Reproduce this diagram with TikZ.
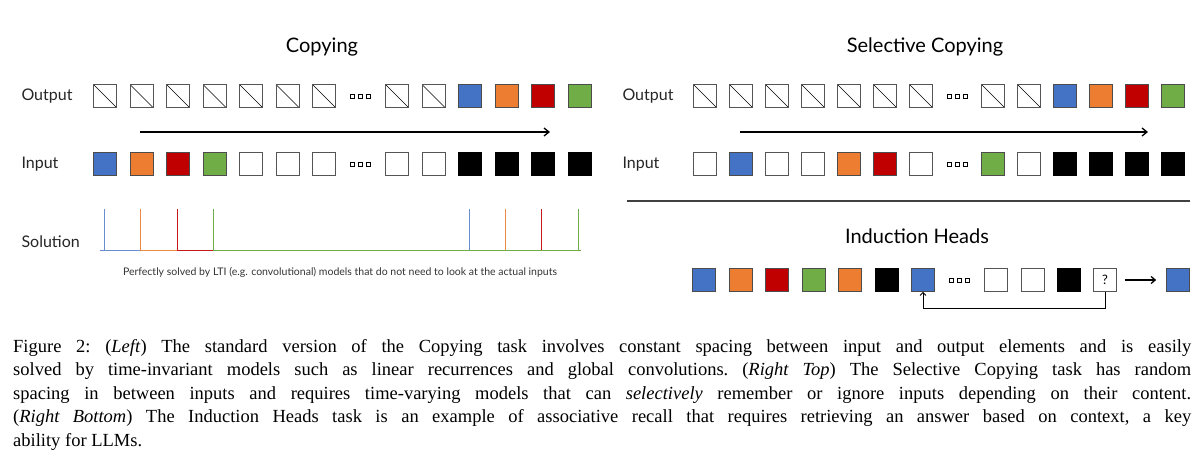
\documentclass[tikz,border=0pt]{standalone}
\usepackage{fontspec}
\setmainfont{Liberation Serif}
\newfontfamily\dia{Lato}
\usetikzlibrary{arrows.meta}
\definecolor{cB}{HTML}{4472C4}
\definecolor{cO}{HTML}{ED7D31}
\definecolor{cR}{HTML}{C00000}
\definecolor{cG}{HTML}{70AD47}
\definecolor{edge}{HTML}{555555}
\tikzset{
  cell/.style={draw=edge, minimum size=23pt, inner sep=0pt, line width=0.8pt},
  cellw/.style={cell, fill=white},
  cellh/.style={cell, fill=white, path picture={\draw[black,line width=0.6pt] (path picture bounding box.north west) -- (path picture bounding box.south east);}},
  cellB/.style={cell, draw=black!70, fill=cB},
  cellO/.style={cell, draw=black!70, fill=cO},
  cellR/.style={cell, draw=black!70, fill=cR},
  cellG/.style={cell, draw=black!70, fill=cG},
  cellK/.style={cell, draw=black, fill=black},
  cellq/.style={cell, fill=white, font=\dia\fontsize{13}{13}\selectfont},
  celld/.style={minimum size=23pt, inner sep=0pt, path picture={
     \foreach \dx in {-8,0,8}{\draw[black,line width=0.6pt] ([shift={(\dx pt-1.8pt,-1.8pt)}]path picture bounding box.center) rectangle ++(3.6pt,3.6pt);}}},
  lab/.style={font=\dia\fontsize{16}{16}\selectfont, anchor=west, text=black!85},
  ttl/.style={font=\dia\fontsize{20}{20}\selectfont},
  sol/.style={line width=1pt},
}
\begin{document}
\begin{tikzpicture}[x=1pt,y=-1pt]
\useasboundingbox[fill=white] (0,0) rectangle (1204,472);
% ---- Copying
\node[ttl] (t1) at (322,47) {Copying};
\node[lab] (l1) at (18,96) {Output};
\node[lab] (l2) at (18,164) {Input};
\node[lab] (l3) at (18,242) {Solution};
\foreach \t [count=\i from 0] in {h,h,h,h,h,h,h,d,h,h,B,O,R,G}
  \node[cell\t] (lo\i) at (105+36.5*\i,96) {};
\foreach \t [count=\i from 0] in {B,O,R,G,w,w,w,d,w,w,K,K,K,K}
  \node[cell\t] (li\i) at (105+36.5*\i,164) {};
\coordinate (a1s) at (140,132); \coordinate (a1e) at (550,132);
\draw[-{Straight Barb[length=5pt,width=8pt]},line width=1.3pt] (a1s) -- (a1e);
% solution
\draw[sol,cB!80] (104,209) -- (104,250) (100,250) -- (140,250) (469,209) -- (469,250);
\draw[sol,cO!90] (140,209) -- (140,250) -- (177,250) (505,209) -- (505,250);
\draw[sol,cR!90] (177,209) -- (177,250) -- (213,250) (541,209) -- (541,250);
\draw[sol,cG] (213,209) -- (213,250) -- (581,250) (578,209) -- (578,250);
\node[font=\dia\fontsize{10.5}{10.5}\selectfont, text=black!80] (cap1) at (340,272) {Perfectly solved by LTI (e.g. convolutional) models that do not need to look at the actual inputs};
% ---- Selective copying
\node[ttl] (t2) at (925,47) {Selective Copying};
\node[lab] (l4) at (619,96) {Output};
\node[lab] (l5) at (619,164) {Input};
\foreach \t [count=\i from 0] in {h,h,h,h,h,h,h,d,h,h,B,O,R,G}
  \node[cell\t] (ro\i) at (705+36*\i,96) {};
\foreach \t [count=\i from 0] in {w,B,w,w,O,R,w,d,G,w,K,K,K,K}
  \node[cell\t] (ri\i) at (705+36*\i,164) {};
\coordinate (a2s) at (740,132); \coordinate (a2e) at (1148,132);
\draw[-{Straight Barb[length=5pt,width=8pt]},line width=1.3pt] (a2s) -- (a2e);
\coordinate (h1) at (627,201); \coordinate (h2) at (1190,201);
\draw[line width=1.2pt, black!75] (h1) -- (h2);
% ---- Induction heads
\node[ttl] (t3) at (917,236) {Induction Heads};
\foreach \t [count=\i from 0] in {B,O,R,G,O,K,B,d,w,w,K}
  \node[cell\t] (ih\i) at (704+36.5*\i,280) {};
\node[cellq] (q) at (1105,280) {?};
\node[cellB] (fin) at (1178,280) {};
\draw[-{Straight Barb[length=4pt,width=7pt]},line width=1.3pt] ([xshift=8pt]q.east) -- ([xshift=-10pt]fin.west);
\draw[-{Straight Barb[length=3pt,width=6pt]},line width=0.8pt] (q.south) -- ++(0,16) -| (ih6.south);
% ---- caption
\node[anchor=north west, text width=1178pt, align=justify, inner sep=0pt,
  font=\fontsize{18.5}{23.5}\selectfont\frenchspacing] (cap) at (13,339) {Figure 2: (\textit{Left}) The standard version of the Copying task involves constant spacing between input and output elements and is easily\linebreak solved by time-invariant models such as linear recurrences and global convolutions. (\textit{Right Top}) The Selective Copying task has random\linebreak spacing in between inputs and requires time-varying models that can \textit{selectively} remember or ignore inputs depending on their content.\linebreak (\textit{Right Bottom}) The Induction Heads task is an example of associative recall that requires retrieving an answer based on context, a key\linebreak ability for LLMs.};
\end{tikzpicture}
\end{document}
